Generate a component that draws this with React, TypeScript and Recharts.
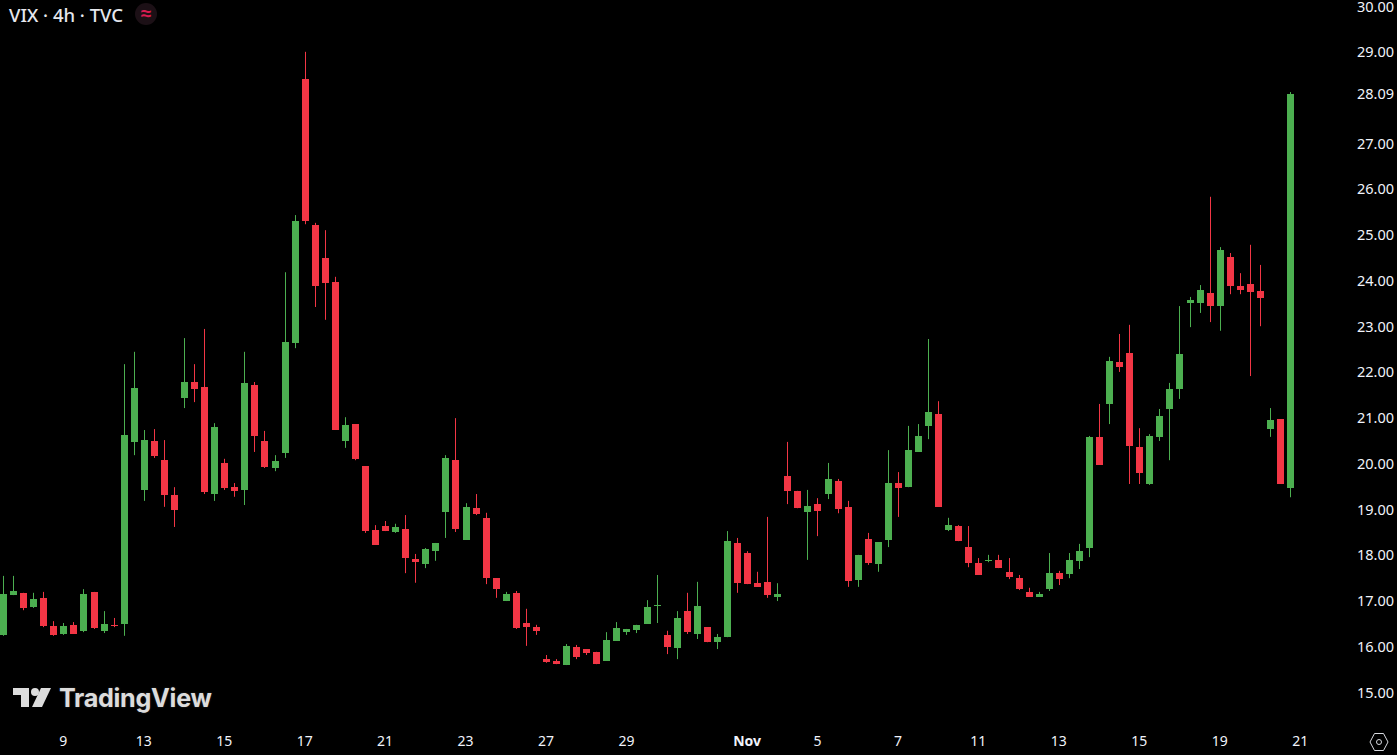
import React from 'react';
import { ComposedChart, Bar, XAxis, YAxis } from 'recharts';

const opens = [
  16.26,17.13,17.18,16.87,17.07,16.45,16.28,16.48,16.34,17.20,
  16.34,16.48,16.50,20.48,19.43,20.50,20.08,19.32,21.44,21.79,
  21.68,19.34,20.02,19.49,19.43,21.72,20.50,19.91,20.24,22.64,
  28.42,25.22,24.50,23.98,20.50,20.87,19.95,18.55,18.64,18.51,
  18.58,17.92,17.81,18.10,18.95,20.08,18.34,19.04,18.82,17.50,
  17.00,17.18,16.52,16.43,15.73,15.69,15.60,16.00,15.95,15.89,
  15.69,16.13,16.32,16.37,16.50,16.89,16.26,15.97,16.78,16.28,
  16.43,16.10,16.21,18.27,18.05,17.39,17.42,17.09,19.73,19.41,
  18.95,19.12,19.34,19.63,19.06,17.46,18.36,17.81,18.34,19.58,
  19.49,20.26,20.83,21.09,18.55,18.64,18.18,17.83,17.88,17.90,
  17.64,17.50,17.20,17.09,17.26,17.61,17.59,17.88,18.16,20.59,
  21.31,22.23,22.42,20.37,19.56,20.59,21.20,21.64,23.52,23.52,
  23.74,23.45,24.52,23.89,23.93,23.78,20.76,20.98,19.48,
];
const closes = [
  17.15,17.22,16.85,17.04,16.45,16.26,16.45,16.28,17.15,16.41,
  16.50,16.45,20.63,21.66,20.52,20.17,19.32,18.99,21.79,21.64,
  19.38,20.81,19.47,19.41,21.77,20.61,19.93,20.06,22.66,25.31,
  25.31,23.89,23.95,20.74,20.85,20.11,18.53,18.23,18.53,18.62,
  17.94,17.85,18.14,18.27,20.13,18.58,19.06,18.90,17.50,17.26,
  17.15,16.41,16.43,16.35,15.67,15.62,16.02,15.78,15.86,15.62,
  16.15,16.41,16.39,16.48,16.87,16.91,16.00,16.63,16.32,16.89,
  16.10,16.21,18.31,17.39,17.37,17.31,17.13,17.15,19.41,19.03,
  19.08,18.97,19.67,19.01,17.44,18.01,17.83,18.29,19.58,19.47,
  20.30,20.61,21.13,19.06,18.66,18.31,17.83,17.57,17.90,17.72,
  17.53,17.26,17.09,17.15,17.61,17.48,17.90,18.09,20.59,19.98,
  22.25,22.12,20.39,19.80,20.61,21.05,21.64,22.40,23.58,23.80,
  23.45,24.68,23.89,23.80,23.76,23.63,20.96,19.56,28.09,
];
const highs = [
  17.55,17.55,17.18,17.18,17.20,16.56,16.52,16.54,17.26,17.20,
  16.78,16.63,22.18,22.45,20.74,20.76,20.52,19.49,22.75,22.18,
  22.95,20.89,20.11,19.58,22.45,21.79,20.72,20.19,24.19,25.44,
  29.01,25.27,25.11,24.09,21.02,20.87,19.95,18.66,18.75,18.69,
  18.88,18.03,18.16,18.27,20.19,21.00,19.14,19.34,18.93,17.50,
  17.20,17.22,16.83,16.48,15.82,15.73,16.06,16.04,15.95,15.89,
  16.32,16.54,16.39,16.48,17.02,17.57,16.35,16.78,17.18,17.42,
  16.43,16.28,18.53,18.38,18.09,17.64,18.84,17.39,20.48,19.41,
  19.43,19.25,20.02,19.67,19.19,18.01,18.49,18.29,20.30,19.82,
  20.83,20.87,22.73,21.37,18.82,18.66,18.64,17.94,18.01,18.01,
  17.94,17.57,17.29,17.20,18.05,17.66,18.05,18.25,20.61,21.31,
  22.34,22.84,23.04,20.78,20.65,21.20,21.77,23.45,23.65,23.91,
  25.84,24.74,24.61,24.17,24.79,24.35,21.22,20.98,28.13,
];
const lows = [
  16.24,17.13,16.80,16.85,16.43,16.24,16.26,16.28,16.32,16.39,
  16.30,16.43,16.24,20.19,19.19,20.13,19.06,18.62,21.22,21.35,
  19.34,19.19,19.43,19.28,19.10,20.26,19.91,19.84,20.13,22.53,
  25.24,23.43,23.15,20.74,20.35,20.08,18.49,18.23,18.53,18.49,
  17.61,17.40,17.72,17.88,18.38,18.51,18.34,18.88,17.37,17.07,
  17.00,16.39,16.02,16.26,15.65,15.62,15.60,15.73,15.82,15.62,
  15.69,16.13,16.26,16.30,16.50,16.52,15.84,15.73,16.28,16.17,
  16.10,15.95,16.21,17.18,17.37,17.31,17.07,17.00,19.12,19.03,
  17.90,18.42,19.23,18.92,17.31,17.31,17.79,17.64,18.18,18.84,
  19.49,20.26,20.54,19.06,18.53,18.31,17.74,17.57,17.85,17.72,
  17.48,17.24,17.09,17.09,17.22,17.35,17.50,17.70,17.96,19.98,
  20.87,22.01,19.56,19.56,19.54,20.50,20.08,21.42,22.99,23.30,
  23.10,22.91,23.71,23.71,21.92,23.01,20.59,19.56,19.27,
];

const EMPTY_SLOTS = 5;
const timeTickIndex = [6, 14, 22, 30, 38, 46, 54, 62, 74, 81, 89, 97, 105, 113, 121, 129];
const timeTickLabels = ['9', '13', '15', '17', '21', '23', '27', '29', 'Nov', '5', '7', '11', '13', '15', '19', '21'];
const priceTicks = [15, 16, 17, 18, 19, 20, 21, 22, 23, 24, 25, 26, 27, 28.09, 29, 30];

const UP = '#4CAF50';
const DOWN = '#F23645';
const FONT = '"Noto Sans", sans-serif';

const rows = Array.from({ length: opens.length + EMPTY_SLOTS }, (_, i) => ({
  idx: i,
  open: opens[i],
  close: closes[i],
  high: highs[i],
  low: lows[i],
  range: i < opens.length ? [lows[i], highs[i]] : undefined,
}));

function Candle(props: any) {
  const { x, y, width, height, payload } = props;
  if (!payload || payload.open === undefined || !(height > 0)) return null;
  const { open, close, high, low } = payload;
  const ppu = height / (high - low);
  const px = Math.floor(x + width / 2);
  const color = close < open ? DOWN : UP;
  const top = Math.round(y + (high - Math.max(open, close)) * ppu);
  const bot = Math.round(y + (high - Math.min(open, close)) * ppu);
  return (
    <g>
      <rect x={px} y={y} width={1} height={height} fill={color} />
      <rect x={px - 3} y={top} width={7} height={Math.max(1, bot - top)} fill={color} />
    </g>
  );
}

function PriceTick(props: any) {
  const { y, payload } = props;
  return (
    <text x={1394} y={y + 5} textAnchor="end" fontFamily={FONT} fontSize={14.5} fill="#f0f3fa">
      {Number(payload.value).toFixed(2)}
    </text>
  );
}

function TimeTick(props: any) {
  const { x, payload } = props;
  const label = timeTickLabels[timeTickIndex.indexOf(payload.value)];
  return (
    <text x={x} y={746} textAnchor="middle" fontFamily={FONT} fontSize={14} fontWeight={label === 'Nov' ? 700 : 400} fill="#f0f3fa">
      {label}
    </text>
  );
}

export default function App() {
  return (
    <div style={{ position: 'fixed', left: 0, top: 0, width: 1397, height: 755, background: '#000', overflow: 'hidden' }}>
      <ComposedChart
        width={1397}
        height={755}
        data={rows}
        barCategoryGap={0}
        margin={{ top: 0, right: 0, bottom: 0, left: -1.98 }}
      >
        <XAxis
          dataKey="idx"
          type="category"
          ticks={timeTickIndex}
          interval={0}
          axisLine={false}
          tickLine={false}
          height={25}
          tick={<TimeTick />}
        />
        <YAxis
          orientation="right"
          type="number"
          width={51.61}
          domain={[14.18, 30.143]}
          ticks={priceTicks}
          interval={0}
          axisLine={false}
          tickLine={false}
          tick={<PriceTick />}
        />
        <Bar dataKey="range" barSize={7} isAnimationActive={false} shape={<Candle />} />
      </ComposedChart>

      <div style={{ position: 'absolute', left: 9, top: 2, fontFamily: FONT, fontSize: 18.5, fontWeight: 500, lineHeight: '26px', color: '#e6e8ee', whiteSpace: 'nowrap' }}>
        VIX · 4h · TVC
      </div>
      <svg style={{ position: 'absolute', left: 133, top: 1 }} width={26} height={26}>
        <circle cx={13} cy={13} r={11} fill="#1c1016" />
        <text x={13} y={19} textAnchor="middle" fontFamily={FONT} fontSize={19} fontWeight={700} fill="#d81b50">≈</text>
      </svg>

      <svg style={{ position: 'absolute', left: 12, top: 686 }} width={40} height={24}>
        <path d="M1 2 H17 V21 H9 V9 H1 Z" fill="#dcdcdc" />
        <circle cx={23} cy={6} r={4} fill="#dcdcdc" />
        <path d="M29 2 H39 L30 21 H20 Z" fill="#dcdcdc" />
      </svg>
      <div style={{ position: 'absolute', left: 59, top: 682, fontFamily: 'Inter, sans-serif', fontSize: 25.2, fontWeight: 700, lineHeight: '32px', color: '#dcdcdc', letterSpacing: -0.3, whiteSpace: 'nowrap', textShadow: '0 0 2px #333' }}>
        TradingView
      </div>

      <svg style={{ position: 'absolute', left: 1368, top: 732 }} width={22} height={20}>
        <path d="M6.5 1.5 H15.5 L20 10 L15.5 18.5 H6.5 L2 10 Z" fill="none" stroke="#d8dae0" strokeWidth={1} />
        <circle cx={11} cy={10} r={2.5} fill="none" stroke="#d8dae0" strokeWidth={1} />
      </svg>
    </div>
  );
}
